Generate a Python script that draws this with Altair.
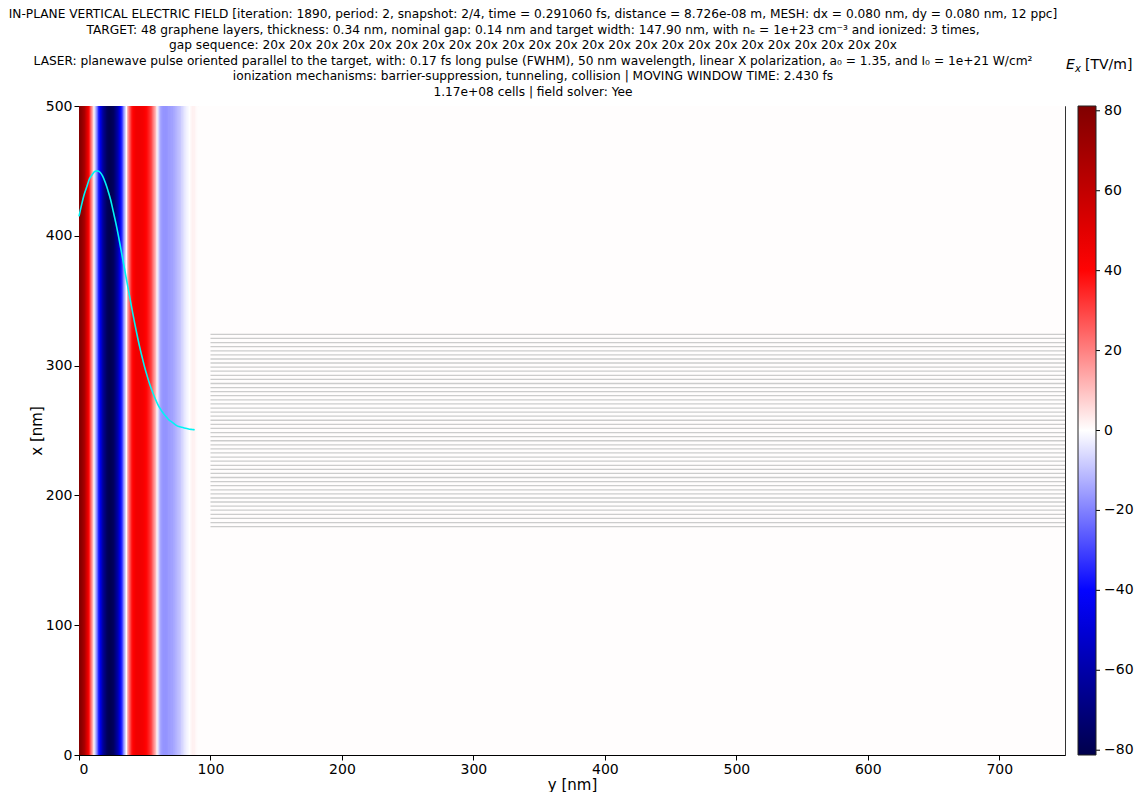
import altair as alt
import pandas as pd

# ---------------- data ----------------
# field profile E_x (TV/m) sampled along y (nm); uniform along x
field_y = list(range(0, 91))
field_val = [80, 79, 77, 73, 68, 61, 53, 45, 35, 25, 15, 5,
             -5, -15, -25, -35, -44, -53, -60, -67, -72, -76, -79, -80, -80, -79, -77, -73, -68, -62,
             -55, -47, -38, -29, -19, -9, 0,
             12, 22, 30, 36, 40, 42, 44, 45, 45, 45, 45, 44, 43, 42, 40, 38, 36, 33, 29, 24, 18, 12, 5,
             -3, -10, -14, -16, -17, -17, -17, -17, -16, -16, -15, -15, -14, -13, -12, -11, -10, -9,
             -7, -6, -4, -3, -2, -1, 0,
             1, 2, 2, 2, 1, 0.5]
background_val = 0.3
background_from = 90.6
field_vmax = 81.2
y_max = 750
x_max = 500

# pulse envelope (cyan curve): y (nm) -> x (nm)
env_y = [0, 2, 4, 6, 8, 10, 12, 14, 16, 18, 20, 22, 24, 26, 28, 30, 32, 34, 36, 38, 40, 42, 44,
         46, 48, 50, 52, 54, 56, 58, 60, 62, 64, 66, 68, 70, 72, 74, 76, 78, 80, 82, 84, 86, 88]
env_x = [415, 424, 432, 438, 444, 447, 449.5, 450, 449, 446, 441, 435, 428, 419, 410, 400, 389,
         378, 367, 356, 345, 334.5, 324.5, 315, 306.5, 298.5, 291.5, 285, 279.5, 274.5, 270, 266.5,
         263.5, 261, 258.5, 257, 255.5, 254, 253, 252.5, 252, 251.5, 251, 250.8, 250.6]

# graphene layers (x positions in nm), drawn from y=100 to y=750 nm
layer_x = [176.0, 179.1, 182.3, 185.4, 188.6, 191.7, 194.9, 198.0, 201.2, 204.3, 207.5, 210.6,
           213.8, 216.9, 220.1, 223.2, 226.4, 229.5, 232.7, 235.8, 239.0, 242.1, 245.3, 248.4,
           251.6, 254.7, 257.9, 261.0, 264.2, 267.3, 270.5, 273.6, 276.8, 279.9, 283.1, 286.2,
           289.4, 292.5, 295.7, 298.8, 302.0, 305.1, 308.3, 311.4, 314.6, 317.7, 320.9, 324.0]
layer_y_start = 100
layer_y_end = 750

cbar_ticks = [-80, -60, -40, -20, 0, 20, 40, 60, 80]
x_ticks = [0, 100, 200, 300, 400, 500, 600, 700]
y_ticks = [0, 100, 200, 300, 400, 500]

n_gaps = 24
title_lines = [
    "IN-PLANE VERTICAL ELECTRIC FIELD [iteration: 1890, period: 2, snapshot: 2/4, time = 0.291060 fs, distance = 8.726e-08 m, MESH: dx = 0.080 nm, dy = 0.080 nm, 12 ppc]",
    "TARGET: 48 graphene layers, thickness: 0.34 nm, nominal gap: 0.14 nm and target width: 147.90  nm, with nₑ = 1e+23 cm⁻³ and ionized: 3 times,",
    "gap sequence: " + " ".join(["20x"] * n_gaps),
    "LASER: planewave pulse oriented parallel to the target, with: 0.17 fs long pulse (FWHM), 50 nm wavelength, linear X polarization, a₀ = 1.35, and I₀ = 1e+21 W/cm²",
    "ionization mechanisms: barrier-suppression, tunneling, collision | MOVING WINDOW TIME: 2.430 fs",
    "1.17e+08 cells | field solver: Yee",
]

# ---------------- tables ----------------
lo = [max(v - 0.5, 0) for v in field_y] + [background_from]
hi = [v + 1.2 for v in field_y] + [y_max]
vals = field_val + [background_val]
field_df = pd.DataFrame({"lo": lo, "hi": hi, "val": vals, "x0": 0, "x1": x_max})
env_df = pd.DataFrame({"y": env_y, "x": env_x})
layer_df = pd.DataFrame({"x": layer_x, "y0": layer_y_start, "y1": layer_y_end})
# colorbar tick positions, mapped onto the plot height (colorbar spans -vmax..vmax)
cbar_df = pd.DataFrame({"pos": [(t + field_vmax) / (2 * field_vmax) * x_max for t in cbar_ticks]})

FONT = "DejaVu Sans"
W, H = 986, 649
CB_X, CB_W = W + 13, 18

xscale = alt.Scale(domain=[0, y_max], nice=False, zero=False)
yscale = alt.Scale(domain=[0, x_max], nice=False, zero=False)
xaxis = alt.Axis(values=x_ticks, title="y [nm]", grid=False, titlePadding=1)
yaxis = alt.Axis(values=y_ticks, title="x [nm]", grid=False, titlePadding=1)

cmap_domain = [-field_vmax, -field_vmax / 2, 0, field_vmax / 2, field_vmax]
cmap_range = ["#00004c", "#0000ff", "#ffffff", "#ff0000", "#800000"]
color_scale = alt.Scale(domain=cmap_domain, range=cmap_range, interpolate="rgb", clamp=True)

field = alt.Chart(field_df).mark_rect(strokeWidth=0).encode(
    x=alt.X("lo:Q", scale=xscale, axis=xaxis),
    x2="hi:Q",
    y=alt.Y("x0:Q", scale=yscale, axis=yaxis),
    y2="x1:Q",
    color=alt.Color("val:Q", scale=color_scale,
                    legend=alt.Legend(type="gradient", orient="none", legendX=CB_X, legendY=0,
                                      direction="vertical", gradientLength=H,
                                      gradientThickness=CB_W, title=None,
                                      values=cbar_ticks, labelFontSize=14, labelFont=FONT,
                                      labelColor="black", labelOffset=8,
                                      gradientStrokeColor="#222", gradientStrokeWidth=1)),
)

cbar_ticks_layer = alt.Chart(cbar_df).mark_rule(color="black", strokeWidth=1).encode(
    x=alt.value(CB_X + CB_W), x2=alt.value(CB_X + CB_W + 4),
    y=alt.Y("pos:Q", scale=yscale),
)

layers = alt.Chart(layer_df).mark_rule(color="#cccccc", strokeWidth=1.3).encode(
    x=alt.X("y0:Q", scale=xscale),
    x2="y1:Q",
    y=alt.Y("x:Q", scale=yscale),
)

env = alt.Chart(env_df).mark_line(color="#00f4f4", strokeWidth=1.6, interpolate="monotone").encode(
    x=alt.X("y:Q", scale=xscale),
    y=alt.Y("x:Q", scale=yscale),
)

one = pd.DataFrame({"a": [0]})
t_E = alt.Chart(one).mark_text(text="E", font=FONT, fontSize=14, fontStyle="italic",
                               align="left", baseline="alphabetic", color="black").encode(
    x=alt.value(W + 1), y=alt.value(-37))
t_sub = alt.Chart(one).mark_text(text="x", font=FONT, fontSize=10, fontStyle="italic",
                                 align="left", baseline="alphabetic", color="black").encode(
    x=alt.value(W + 10), y=alt.value(-34))
t_unit = alt.Chart(one).mark_text(text="[TV/m]", font=FONT, fontSize=14,
                                  align="left", baseline="alphabetic", color="black").encode(
    x=alt.value(W + 20), y=alt.value(-37))

chart = alt.layer(field, layers, env, cbar_ticks_layer, t_E, t_sub, t_unit).properties(
    width=W, height=H,
    title=alt.TitleParams(text=title_lines, font=FONT, fontSize=12.2, fontWeight="normal",
                          lineHeight=15.5, anchor="middle", dx=-39, offset=-40, color="black"),
    padding={"left": 0, "top": 0, "right": 0, "bottom": 0},
).configure_axis(
    labelFont=FONT, labelFontSize=14, labelColor="black",
    titleFont=FONT, titleFontSize=15, titleFontWeight="normal", titleColor="black",
    tickColor="black", tickSize=5, domainColor="black", labelPadding=2,
).configure_view(stroke="#333", strokeWidth=1)

chart.save("out.html", embed_options={"renderer": "svg", "actions": False})
